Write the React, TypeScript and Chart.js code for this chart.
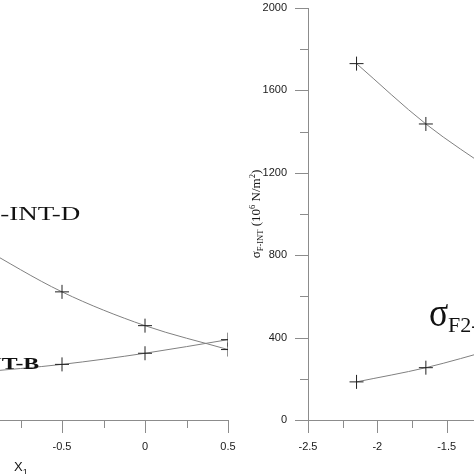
import { useEffect, useRef } from 'react';
import { Chart, registerables } from 'chart.js';

Chart.register(...registerables);

// Left panel (its left part is cut off in the crop)
const leftX = [-1, -0.5, 0, 0.5];
const leftD = [845, 622, 458, 342];
const leftB = [232, 270, 324, 390];
const leftXLabels = [-0.5, 0, 0.5];

// Right panel (its right part is cut off)
const rightX = [-2.15, -1.65, -1.15];
const rightUpper = [1730, 1437, 1200];
const rightLower = [185, 254, 345];
const rightXLabels = [-2.5, -2, -1.5];

const yLabels = [0, 400, 800, 1200, 1600, 2000];

const AXIS = '#8c8c8c';
const CURVE = '#808080';
const TEXT = '#1a1a1a';
const SANS = '"Liberation Sans", Arial, sans-serif';
const SERIF = '"Liberation Serif", "Times New Roman", serif';

// draws long ticks under labelled values and short ones between
const tickMarks = {
  id: 'tickMarks',
  afterDraw(chart: any) {
    const ctx = chart.ctx;
    ctx.save();
    ctx.strokeStyle = AXIS;
    ctx.lineWidth = 1;
    ['x', 'y'].forEach((id) => {
      const scale = chart.scales[id];
      if (!scale || scale.options.display === false) return;
      scale.ticks.forEach((t: any, i: number) => {
        const len = t.label !== '' ? 13 : 8;
        const p = Math.round(scale.getPixelForTick(i)) + 0.5;
        ctx.beginPath();
        if (id === 'x') {
          ctx.moveTo(p, scale.top);
          ctx.lineTo(p, scale.top + len);
        } else {
          ctx.moveTo(scale.right, p);
          ctx.lineTo(scale.right - len, p);
        }
        ctx.stroke();
      });
    });
    ctx.restore();
  },
};

const pts = (xs: number[], ys: number[]) => xs.map((x, i) => ({ x, y: ys[i] }));

const lineStyle = {
  borderColor: CURVE,
  borderWidth: 1,
  pointStyle: 'cross',
  pointRadius: 7,
  pointBorderColor: '#222',
  pointBackgroundColor: '#222',
  pointBorderWidth: 1,
  cubicInterpolationMode: 'monotone',
  fill: false,
};

function makeOptions(xMin: number, xMax: number, xLabels: number[], showY: boolean, padding: any) {
  return {
    responsive: false,
    animation: false,
    layout: { padding },
    plugins: { legend: { display: false }, tooltip: { enabled: false } },
    scales: {
      x: {
        type: 'linear',
        min: xMin,
        max: xMax,
        border: { color: AXIS, width: 1 },
        grid: { display: false, drawTicks: false },
        ticks: {
          stepSize: 0.25,
          autoSkip: false,
          maxRotation: 0,
          padding: 20,
          color: TEXT,
          font: { family: SANS, size: 11 },
          callback: (v: number) =>
            xLabels.some((l) => Math.abs(l - v) < 1e-6) ? String(Number(v.toFixed(2))) : '',
        },
        afterFit: (s: any) => {
          s.height = 54;
          s.paddingLeft = 0;
          s.paddingRight = 0;
        },
      },
      y: {
        type: 'linear',
        min: 0,
        max: 2000,
        display: showY,
        border: { color: AXIS, width: 1 },
        grid: { display: false, drawTicks: false },
        ticks: {
          stepSize: 200,
          autoSkip: false,
          padding: 21,
          color: TEXT,
          font: { family: SANS, size: 11 },
          callback: (v: number) => (yLabels.includes(v) ? String(v) : ''),
        },
        afterFit: (s: any) => {
          s.width = showY ? 78 : 0;
          s.paddingTop = 0;
          s.paddingBottom = 0;
        },
      },
    },
  };
}

export default function App() {
  const leftRef = useRef<HTMLCanvasElement>(null);
  const rightRef = useRef<HTMLCanvasElement>(null);

  useEffect(() => {
    if (!leftRef.current || !rightRef.current) return;

    const left = new Chart(leftRef.current, {
      type: 'line',
      data: {
        datasets: [
          { ...lineStyle, data: pts(leftX, leftD) },
          { ...lineStyle, data: pts(leftX, leftB) },
        ],
      },
      options: makeOptions(-1, 0.5, leftXLabels, false, { left: 19, right: 20, top: 6, bottom: 0 }),
      plugins: [tickMarks],
    } as any);

    const right = new Chart(rightRef.current, {
      type: 'line',
      data: {
        datasets: [
          { ...lineStyle, data: pts(rightX, rightUpper) },
          { ...lineStyle, data: pts(rightX, rightLower) },
        ],
      },
      options: makeOptions(-2.5, -1, rightXLabels, true, { left: 0, right: 14, top: 6, bottom: 0 }),
      plugins: [tickMarks],
    } as any);

    return () => {
      left.destroy();
      right.destroy();
    };
  }, []);

  const serif = { fontFamily: SERIF, color: '#111', lineHeight: 1, whiteSpace: 'nowrap' as const };

  return (
    <div
      style={{
        position: 'fixed',
        left: 0,
        top: 0,
        width: 474,
        height: 474,
        overflow: 'hidden',
        background: '#fff',
      }}
    >
      <canvas
        ref={leftRef}
        width={288}
        height={474}
        style={{ position: 'absolute', left: -40, top: 0, display: 'block' }}
      />
      <canvas
        ref={rightRef}
        width={300}
        height={474}
        style={{ position: 'absolute', left: 230, top: 0, display: 'block' }}
      />

      {/* left panel labels */}
      <div
        style={{
          ...serif,
          position: 'absolute',
          right: 394,
          top: 205,
          fontSize: 18,
          transform: 'scaleX(1.5)',
          transformOrigin: 'right center',
        }}
      >
        F1-INT-D
      </div>
      <div
        style={{
          ...serif,
          position: 'absolute',
          right: 435,
          top: 355,
          fontSize: 17,
          fontWeight: 'bold',
          transform: 'scaleX(1.4)',
          transformOrigin: 'right center',
        }}
      >
        F1-INT-B
      </div>
      <div
        style={{
          position: 'absolute',
          left: 14,
          top: 460,
          fontFamily: SANS,
          fontSize: 13,
          lineHeight: 1,
          color: '#111',
        }}
      >
        X<span style={{ fontSize: 9, position: 'relative', top: 4 }}>1</span>
      </div>

      {/* right panel axis title */}
      <div
        style={{
          position: 'absolute',
          left: 255,
          top: 214,
          width: 0,
          height: 0,
          transform: 'rotate(-90deg)',
        }}
      >
        <div
          style={{
            ...serif,
            position: 'absolute',
            fontSize: 13,
            transform: 'translate(-50%, -50%)',
          }}
        >
          σ<span style={{ fontSize: 8.5, position: 'relative', top: 3 }}>F-INT</span> (10
          <span style={{ fontSize: 8.5, position: 'relative', top: -5 }}>6</span> N/m
          <span style={{ fontSize: 8.5, position: 'relative', top: -5 }}>2</span>)
        </div>
      </div>

      {/* right panel curve label */}
      <div
        style={{
          ...serif,
          position: 'absolute',
          left: 429,
          top: 291,
          fontSize: 42,
          transform: 'scaleX(0.85)',
          transformOrigin: 'left center',
        }}
      >
        σ
      </div>
      <div style={{ ...serif, position: 'absolute', left: 448, top: 314, fontSize: 22 }}>F2-INT-D</div>
    </div>
  );
}
